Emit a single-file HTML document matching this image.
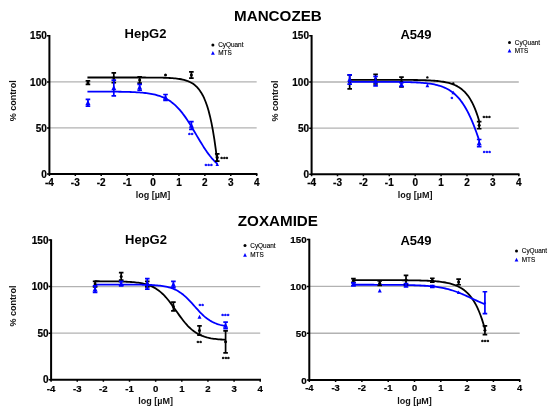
<!DOCTYPE html>
<html><head><meta charset="utf-8"><title>Mancozeb and Zoxamide dose response</title>
<style>
html,body{margin:0;padding:0;background:#fff;}
svg{display:block;font-family:"Liberation Sans",sans-serif;}
.tt{font-size:15.2px;font-weight:bold;fill:#000;}
.pt{font-size:13px;font-weight:bold;fill:#000;}
.tk{font-size:10px;font-weight:bold;fill:#000;stroke:#000;stroke-width:0.2px;}
.ax{font-size:9px;font-weight:bold;fill:#111;}
.lg{font-size:6.4px;fill:#000;stroke:#000;stroke-width:0.12px;}
.st{font-size:5.8px;font-weight:bold;letter-spacing:0.45px;stroke-width:0.35px;}
</style></head><body>
<svg width="550" height="411" viewBox="0 0 550 411">
<rect width="550" height="411" fill="#fff"/>
<text class="tt" x="277.9" y="20.7" text-anchor="middle">MANCOZEB</text>
<text class="tt" x="277.9" y="226.4" text-anchor="middle">ZOXAMIDE</text>
<line x1="49.4" y1="127.95" x2="256.68" y2="127.95" stroke="#b2b2b2" stroke-width="1.3"/>
<line x1="49.4" y1="81.9" x2="256.68" y2="81.9" stroke="#b2b2b2" stroke-width="1.3"/>
<line x1="311.6" y1="128.15" x2="518.8" y2="128.15" stroke="#b2b2b2" stroke-width="1.3"/>
<line x1="311.6" y1="82" x2="518.8" y2="82" stroke="#b2b2b2" stroke-width="1.3"/>
<line x1="51.1" y1="333.2" x2="260.22" y2="333.2" stroke="#b2b2b2" stroke-width="1.3"/>
<line x1="51.1" y1="286.6" x2="260.22" y2="286.6" stroke="#b2b2b2" stroke-width="1.3"/>
<line x1="309.3" y1="333.25" x2="519.7" y2="333.25" stroke="#b2b2b2" stroke-width="1.3"/>
<line x1="309.3" y1="286.4" x2="519.7" y2="286.4" stroke="#b2b2b2" stroke-width="1.3"/>
<path d="M87.43 77.49L88.87 77.49L90.31 77.49L91.75 77.49L93.2 77.49L94.64 77.49L96.08 77.49L97.52 77.49L98.97 77.49L100.41 77.49L101.85 77.49L103.29 77.49L104.74 77.49L106.18 77.49L107.62 77.49L109.06 77.49L110.5 77.49L111.95 77.49L113.39 77.49L114.83 77.49L116.27 77.49L117.72 77.49L119.16 77.49L120.6 77.49L122.04 77.49L123.49 77.49L124.93 77.49L126.37 77.49L127.81 77.49L129.26 77.49L130.7 77.49L132.14 77.49L133.58 77.5L135.03 77.5L136.47 77.5L137.91 77.5L139.35 77.51L140.8 77.51L142.24 77.51L143.68 77.52L145.12 77.52L146.57 77.53L148.01 77.54L149.45 77.54L150.89 77.55L152.33 77.57L153.78 77.58L155.22 77.6L156.66 77.61L158.1 77.63L159.55 77.66L160.99 77.69L162.43 77.72L163.87 77.76L165.32 77.81L166.76 77.86L168.2 77.93L169.64 78L171.09 78.09L172.53 78.19L173.97 78.3L175.41 78.44L176.86 78.6L178.3 78.79L179.74 79L181.18 79.26L182.63 79.55L184.07 79.9L185.51 80.3L186.95 80.77L188.4 81.32L189.84 81.96L191.28 82.71L192.72 83.58L194.16 84.6L195.61 85.79L197.05 87.18L198.49 88.8L199.93 90.69L201.38 92.89L202.82 95.47L204.26 98.47L205.7 101.98L207.15 106.07L208.59 110.85L210.03 116.42L211.47 122.93L212.92 130.52L214.36 139.38L215.8 149.72L217.24 161.79" fill="none" stroke="#000" stroke-width="1.8" stroke-linecap="butt" stroke-linejoin="round"/>
<path d="M87.43 91.57L88.87 91.57L90.31 91.57L91.75 91.57L93.2 91.58L94.64 91.58L96.08 91.58L97.52 91.59L98.97 91.59L100.41 91.59L101.85 91.6L103.29 91.6L104.74 91.61L106.18 91.62L107.62 91.63L109.06 91.63L110.5 91.65L111.95 91.66L113.39 91.67L114.83 91.68L116.27 91.7L117.72 91.72L119.16 91.74L120.6 91.76L122.04 91.79L123.49 91.81L124.93 91.85L126.37 91.88L127.81 91.92L129.26 91.97L130.7 92.02L132.14 92.07L133.58 92.14L135.03 92.21L136.47 92.29L137.91 92.37L139.35 92.47L140.8 92.58L142.24 92.71L143.68 92.85L145.12 93L146.57 93.18L148.01 93.37L149.45 93.59L150.89 93.83L152.33 94.1L153.78 94.4L155.22 94.73L156.66 95.1L158.1 95.52L159.55 95.97L160.99 96.48L162.43 97.04L163.87 97.67L165.32 98.35L166.76 99.11L168.2 99.94L169.64 100.85L171.09 101.85L172.53 102.94L173.97 104.12L175.41 105.41L176.86 106.8L178.3 108.29L179.74 109.9L181.18 111.61L182.63 113.43L184.07 115.36L185.51 117.38L186.95 119.5L188.4 121.71L189.84 123.99L191.28 126.34L192.72 128.74L194.16 131.17L195.61 133.63L197.05 136.09L198.49 138.53L199.93 140.96L201.38 143.33L202.82 145.65L204.26 147.9L205.7 150.07L207.15 152.15L208.59 154.14L210.03 156.02L211.47 157.79L212.92 159.46L214.36 161.01L215.8 162.46L217.24 163.8" fill="none" stroke="#0000ff" stroke-width="1.8" stroke-linecap="butt" stroke-linejoin="round"/>
<circle cx="87.94" cy="82.63" r="1.5" fill="#000"/>
<circle cx="113.8" cy="77.75" r="1.5" fill="#000"/>
<circle cx="139.66" cy="79.96" r="1.5" fill="#000"/>
<circle cx="165.52" cy="74.9" r="1.5" fill="#000"/>
<circle cx="191.38" cy="74.99" r="1.5" fill="#000"/>
<circle cx="217.24" cy="157.52" r="1.5" fill="#000"/>
<path d="M87.94 80.79V84.47M85.64 80.79h4.6M85.64 84.47h4.6M113.8 72.78V82.72M111.5 72.78h4.6M111.5 82.72h4.6M139.66 76.83V83.09M137.36 76.83h4.6M137.36 83.09h4.6M191.38 71.96V78.03M189.08 71.96h4.6M189.08 78.03h4.6M217.24 153.93V161.1M214.94 153.93h4.6M214.94 161.1h4.6" stroke="#000" stroke-width="1.7" fill="none"/>
<path d="M87.94 100.03L90.44 105.03H85.44Z" fill="#0000ff"/>
<path d="M113.8 85.21L116.3 90.21H111.3Z" fill="#0000ff"/>
<path d="M139.66 84.57L142.16 89.57H137.16Z" fill="#0000ff"/>
<path d="M165.52 94.69L168.02 99.69H163.02Z" fill="#0000ff"/>
<path d="M191.38 122.75L193.88 127.75H188.88Z" fill="#0000ff"/>
<path d="M217.24 162.4L218.99 165.9H215.49Z" fill="#0000ff"/>
<path d="M87.94 99.46V106.09M85.64 99.46h4.6M85.64 106.09h4.6M113.8 80.05V95.88M111.5 80.05h4.6M111.5 95.88h4.6M139.66 84.38V90.26M137.36 84.38h4.6M137.36 90.26h4.6M165.52 94.5V100.38M163.22 94.5h4.6M163.22 100.38h4.6M191.38 121.64V129.36M189.08 121.64h4.6M189.08 129.36h4.6" stroke="#0000ff" stroke-width="1.7" fill="none"/>
<text class="st" x="224.5" y="160.5" fill="#000" stroke="#000" text-anchor="middle">***</text>
<text class="st" x="208.8" y="168.1" fill="#0000ff" stroke="#0000ff" text-anchor="middle">***</text>
<text class="st" x="190.9" y="136.6" fill="#0000ff" stroke="#0000ff" text-anchor="middle">**</text>
<path d="M349.16 79.81L350.6 79.81L352.04 79.81L353.49 79.81L354.93 79.81L356.38 79.81L357.82 79.81L359.27 79.81L360.71 79.81L362.16 79.81L363.6 79.81L365.05 79.81L366.49 79.81L367.94 79.81L369.38 79.81L370.82 79.81L372.27 79.81L373.71 79.81L375.16 79.81L376.6 79.81L378.05 79.81L379.49 79.82L380.94 79.82L382.38 79.82L383.83 79.82L385.27 79.82L386.72 79.82L388.16 79.83L389.61 79.83L391.05 79.83L392.49 79.83L393.94 79.84L395.38 79.84L396.83 79.85L398.27 79.85L399.72 79.86L401.16 79.86L402.61 79.87L404.05 79.88L405.5 79.89L406.94 79.9L408.39 79.91L409.83 79.92L411.27 79.94L412.72 79.96L414.16 79.98L415.61 80L417.05 80.02L418.5 80.05L419.94 80.08L421.39 80.12L422.83 80.16L424.28 80.2L425.72 80.25L427.17 80.31L428.61 80.38L430.06 80.45L431.5 80.54L432.94 80.63L434.39 80.74L435.83 80.86L437.28 81L438.72 81.15L440.17 81.33L441.61 81.52L443.06 81.75L444.5 82L445.95 82.28L447.39 82.61L448.84 82.97L450.28 83.38L451.72 83.85L453.17 84.37L454.61 84.97L456.06 85.64L457.5 86.4L458.95 87.26L460.39 88.23L461.84 89.32L463.28 90.56L464.73 91.96L466.17 93.54L467.62 95.32L469.06 97.34L470.51 99.62L471.95 102.2L473.39 105.12L474.84 108.41L476.28 112.13L477.73 116.33L479.17 121.09" fill="none" stroke="#000" stroke-width="1.8" stroke-linecap="butt" stroke-linejoin="round"/>
<path d="M349.16 81.78L350.6 81.78L352.04 81.78L353.49 81.79L354.93 81.79L356.38 81.79L357.82 81.79L359.27 81.79L360.71 81.79L362.16 81.79L363.6 81.79L365.05 81.79L366.49 81.79L367.94 81.8L369.38 81.8L370.82 81.8L372.27 81.8L373.71 81.81L375.16 81.81L376.6 81.81L378.05 81.82L379.49 81.82L380.94 81.82L382.38 81.83L383.83 81.84L385.27 81.84L386.72 81.85L388.16 81.86L389.61 81.87L391.05 81.88L392.49 81.89L393.94 81.9L395.38 81.91L396.83 81.93L398.27 81.95L399.72 81.97L401.16 81.99L402.61 82.01L404.05 82.04L405.5 82.07L406.94 82.11L408.39 82.15L409.83 82.19L411.27 82.24L412.72 82.29L414.16 82.35L415.61 82.42L417.05 82.5L418.5 82.58L419.94 82.67L421.39 82.78L422.83 82.9L424.28 83.03L425.72 83.17L427.17 83.34L428.61 83.52L430.06 83.72L431.5 83.95L432.94 84.2L434.39 84.49L435.83 84.8L437.28 85.15L438.72 85.54L440.17 85.98L441.61 86.46L443.06 87L444.5 87.6L445.95 88.26L447.39 88.99L448.84 89.81L450.28 90.71L451.72 91.7L453.17 92.8L454.61 94.02L456.06 95.35L457.5 96.82L458.95 98.43L460.39 100.19L461.84 102.12L463.28 104.22L464.73 106.5L466.17 108.97L467.62 111.64L469.06 114.51L470.51 117.59L471.95 120.88L473.39 124.39L474.84 128.1L476.28 132L477.73 136.1L479.17 140.38" fill="none" stroke="#0000ff" stroke-width="1.8" stroke-linecap="butt" stroke-linejoin="round"/>
<circle cx="349.67" cy="81.9" r="1.5" fill="#000"/>
<circle cx="375.57" cy="79.13" r="1.5" fill="#000"/>
<circle cx="401.47" cy="81.99" r="1.5" fill="#000"/>
<circle cx="427.37" cy="77.38" r="1.2" fill="#000"/>
<circle cx="453.27" cy="83.47" r="1.2" fill="#000"/>
<circle cx="479.17" cy="125.14" r="1.5" fill="#000"/>
<path d="M349.67 74.98V88.81M347.37 74.98h4.6M347.37 88.81h4.6M375.57 74.25V84.02M373.27 74.25h4.6M373.27 84.02h4.6M401.47 77.11V86.88M399.17 77.11h4.6M399.17 86.88h4.6M479.17 121.55V128.74M476.87 121.55h4.6M476.87 128.74h4.6" stroke="#000" stroke-width="1.7" fill="none"/>
<path d="M349.67 76.75L352.17 81.75H347.17Z" fill="#0000ff"/>
<path d="M375.57 78.32L378.07 83.32H373.07Z" fill="#0000ff"/>
<path d="M401.47 82.14L403.6 86.39H399.35Z" fill="#0000ff"/>
<path d="M427.37 83.53L429.25 87.28H425.5Z" fill="#0000ff"/>
<path d="M453.27 90.76L455.02 94.26H451.52Z" fill="#0000ff"/>
<path d="M479.17 140.28L481.67 145.28H476.67Z" fill="#0000ff"/>
<path d="M349.67 74.8V84.2M347.37 74.8h4.6M347.37 84.2h4.6M375.57 76.28V85.86M373.27 76.28h4.6M373.27 85.86h4.6M401.47 82.64V86.33M399.17 82.64h4.6M399.17 86.33h4.6M479.17 139.52V146.53M476.87 139.52h4.6M476.87 146.53h4.6" stroke="#0000ff" stroke-width="1.7" fill="none"/>
<text class="st" x="486.9" y="120.3" fill="#000" stroke="#000" text-anchor="middle">***</text>
<text class="st" x="487.1" y="155.3" fill="#0000ff" stroke="#0000ff" text-anchor="middle">***</text>
<text class="st" x="452.1" y="101.4" fill="#0000ff" stroke="#0000ff" text-anchor="middle">*</text>
<path d="M94.56 281.26L96.02 281.27L97.48 281.27L98.93 281.27L100.39 281.28L101.84 281.28L103.3 281.29L104.76 281.3L106.21 281.31L107.67 281.32L109.12 281.33L110.58 281.34L112.03 281.36L113.49 281.38L114.95 281.4L116.4 281.42L117.86 281.45L119.31 281.48L120.77 281.52L122.23 281.56L123.68 281.61L125.14 281.67L126.59 281.73L128.05 281.81L129.5 281.89L130.96 281.99L132.42 282.1L133.87 282.22L135.33 282.37L136.78 282.54L138.24 282.73L139.69 282.95L141.15 283.2L142.61 283.48L144.06 283.8L145.52 284.17L146.97 284.59L148.43 285.06L149.89 285.59L151.34 286.2L152.8 286.87L154.25 287.63L155.71 288.48L157.16 289.42L158.62 290.46L160.08 291.6L161.53 292.86L162.99 294.23L164.44 295.7L165.9 297.29L167.35 298.99L168.81 300.78L170.27 302.66L171.72 304.61L173.18 306.62L174.63 308.67L176.09 310.74L177.55 312.81L179 314.86L180.46 316.87L181.91 318.82L183.37 320.7L184.82 322.49L186.28 324.19L187.74 325.78L189.19 327.26L190.65 328.63L192.1 329.89L193.56 331.03L195.02 332.08L196.47 333.02L197.93 333.87L199.38 334.63L200.84 335.3L202.29 335.91L203.75 336.44L205.21 336.91L206.66 337.33L208.12 337.7L209.57 338.02L211.03 338.31L212.48 338.56L213.94 338.78L215.4 338.97L216.85 339.14L218.31 339.28L219.76 339.41L221.22 339.52L222.68 339.62L224.13 339.7L225.59 339.78" fill="none" stroke="#000" stroke-width="1.8" stroke-linecap="butt" stroke-linejoin="round"/>
<path d="M94.56 284.56L96.02 284.56L97.48 284.56L98.93 284.56L100.39 284.56L101.84 284.56L103.3 284.56L104.76 284.56L106.21 284.57L107.67 284.57L109.12 284.57L110.58 284.57L112.03 284.57L113.49 284.57L114.95 284.57L116.4 284.57L117.86 284.58L119.31 284.58L120.77 284.58L122.23 284.58L123.68 284.59L125.14 284.59L126.59 284.6L128.05 284.6L129.5 284.61L130.96 284.62L132.42 284.63L133.87 284.64L135.33 284.65L136.78 284.66L138.24 284.68L139.69 284.7L141.15 284.72L142.61 284.75L144.06 284.78L145.52 284.81L146.97 284.85L148.43 284.9L149.89 284.96L151.34 285.02L152.8 285.1L154.25 285.19L155.71 285.29L157.16 285.4L158.62 285.54L160.08 285.7L161.53 285.88L162.99 286.09L164.44 286.33L165.9 286.61L167.35 286.93L168.81 287.3L170.27 287.72L171.72 288.19L173.18 288.74L174.63 289.35L176.09 290.04L177.55 290.81L179 291.67L180.46 292.63L181.91 293.67L183.37 294.82L184.82 296.06L186.28 297.39L187.74 298.81L189.19 300.3L190.65 301.86L192.1 303.46L193.56 305.09L195.02 306.73L196.47 308.37L197.93 309.97L199.38 311.54L200.84 313.04L202.29 314.47L203.75 315.82L205.21 317.08L206.66 318.24L208.12 319.31L209.57 320.28L211.03 321.16L212.48 321.95L213.94 322.66L215.4 323.28L216.85 323.84L218.31 324.33L219.76 324.75L221.22 325.13L222.68 325.46L224.13 325.74L225.59 325.99" fill="none" stroke="#0000ff" stroke-width="1.8" stroke-linecap="butt" stroke-linejoin="round"/>
<circle cx="95.09" cy="284.12" r="1.5" fill="#000"/>
<circle cx="121.19" cy="276.41" r="1.5" fill="#000"/>
<circle cx="147.29" cy="284.12" r="1.5" fill="#000"/>
<circle cx="173.39" cy="306.57" r="1.5" fill="#000"/>
<circle cx="199.49" cy="330.52" r="1.5" fill="#000"/>
<circle cx="225.59" cy="341.84" r="1.5" fill="#000"/>
<path d="M95.09 281.33V286.9M92.79 281.33h4.6M92.79 286.9h4.6M121.19 272.7V280.13M118.89 272.7h4.6M118.89 280.13h4.6M147.29 281.33V286.9M144.99 281.33h4.6M144.99 286.9h4.6M173.39 302.21V310.94M171.09 302.21h4.6M171.09 310.94h4.6M199.49 325.88V335.16M197.19 325.88h4.6M197.19 335.16h4.6M225.59 330.89V352.79M223.29 330.89h4.6M223.29 352.79h4.6" stroke="#000" stroke-width="1.7" fill="none"/>
<path d="M95.09 286.38L97.59 291.38H92.59Z" fill="#0000ff"/>
<path d="M121.19 280.9L123.69 285.9H118.69Z" fill="#0000ff"/>
<path d="M147.29 281.09L149.79 286.09H144.79Z" fill="#0000ff"/>
<path d="M173.39 281.74L175.89 286.74H170.89Z" fill="#0000ff"/>
<path d="M199.49 314.86L201.49 318.86H197.49Z" fill="#0000ff"/>
<path d="M225.59 322.66L228.09 327.66H223.09Z" fill="#0000ff"/>
<path d="M95.09 285.88V292.38M92.79 285.88h4.6M92.79 292.38h4.6M121.19 281.33V285.97M118.89 281.33h4.6M118.89 285.97h4.6M147.29 278.64V289.03M144.99 278.64h4.6M144.99 289.03h4.6M173.39 281.42V287.55M171.09 281.42h4.6M171.09 287.55h4.6M225.59 322.16V328.66M223.29 322.16h4.6M223.29 328.66h4.6" stroke="#0000ff" stroke-width="1.7" fill="none"/>
<text class="st" x="199.4" y="344.6" fill="#000" stroke="#000" text-anchor="middle">**</text>
<text class="st" x="226" y="360.6" fill="#000" stroke="#000" text-anchor="middle">***</text>
<text class="st" x="201.4" y="308.1" fill="#0000ff" stroke="#0000ff" text-anchor="middle">**</text>
<text class="st" x="225.6" y="317.9" fill="#0000ff" stroke="#0000ff" text-anchor="middle">***</text>
<path d="M352.89 280.14L354.36 280.14L355.83 280.14L357.3 280.14L358.76 280.14L360.23 280.14L361.7 280.14L363.16 280.14L364.63 280.14L366.1 280.14L367.56 280.14L369.03 280.14L370.5 280.14L371.97 280.14L373.43 280.14L374.9 280.15L376.37 280.15L377.83 280.15L379.3 280.15L380.77 280.15L382.23 280.15L383.7 280.16L385.17 280.16L386.63 280.16L388.1 280.16L389.57 280.17L391.04 280.17L392.5 280.18L393.97 280.18L395.44 280.19L396.9 280.19L398.37 280.2L399.84 280.21L401.3 280.22L402.77 280.23L404.24 280.24L405.71 280.25L407.17 280.26L408.64 280.28L410.11 280.29L411.57 280.31L413.04 280.34L414.51 280.36L415.97 280.39L417.44 280.42L418.91 280.45L420.37 280.49L421.84 280.53L423.31 280.57L424.78 280.63L426.24 280.69L427.71 280.75L429.18 280.82L430.64 280.91L432.11 281L433.58 281.1L435.04 281.21L436.51 281.34L437.98 281.49L439.45 281.65L440.91 281.83L442.38 282.03L443.85 282.25L445.31 282.5L446.78 282.79L448.25 283.1L449.71 283.45L451.18 283.85L452.65 284.29L454.11 284.78L455.58 285.33L457.05 285.95L458.52 286.64L459.98 287.42L461.45 288.28L462.92 289.25L464.38 290.34L465.85 291.55L467.32 292.9L468.78 294.42L470.25 296.12L471.72 298.02L473.19 300.15L474.65 302.52L476.12 305.18L477.59 308.16L479.05 311.49L480.52 315.22L481.99 319.39L483.45 324.05L484.92 329.27" fill="none" stroke="#000" stroke-width="1.8" stroke-linecap="butt" stroke-linejoin="round"/>
<path d="M352.89 284.75L354.36 284.75L355.83 284.75L357.3 284.76L358.76 284.76L360.23 284.76L361.7 284.76L363.16 284.76L364.63 284.76L366.1 284.76L367.56 284.77L369.03 284.77L370.5 284.77L371.97 284.77L373.43 284.77L374.9 284.78L376.37 284.78L377.83 284.78L379.3 284.79L380.77 284.79L382.23 284.8L383.7 284.8L385.17 284.81L386.63 284.82L388.1 284.82L389.57 284.83L391.04 284.84L392.5 284.85L393.97 284.86L395.44 284.88L396.9 284.89L398.37 284.91L399.84 284.92L401.3 284.94L402.77 284.96L404.24 284.99L405.71 285.01L407.17 285.04L408.64 285.07L410.11 285.11L411.57 285.14L413.04 285.19L414.51 285.23L415.97 285.29L417.44 285.34L418.91 285.41L420.37 285.48L421.84 285.56L423.31 285.64L424.78 285.73L426.24 285.84L427.71 285.95L429.18 286.08L430.64 286.21L432.11 286.36L433.58 286.53L435.04 286.71L436.51 286.9L437.98 287.12L439.45 287.35L440.91 287.61L442.38 287.88L443.85 288.18L445.31 288.5L446.78 288.85L448.25 289.22L449.71 289.62L451.18 290.04L452.65 290.5L454.11 290.98L455.58 291.48L457.05 292.02L458.52 292.57L459.98 293.16L461.45 293.76L462.92 294.39L464.38 295.03L465.85 295.69L467.32 296.36L468.78 297.04L470.25 297.73L471.72 298.41L473.19 299.1L474.65 299.77L476.12 300.44L477.59 301.1L479.05 301.74L480.52 302.36L481.99 302.96L483.45 303.54L484.92 304.09" fill="none" stroke="#0000ff" stroke-width="1.8" stroke-linecap="butt" stroke-linejoin="round"/>
<circle cx="353.42" cy="280.5" r="1.5" fill="#000"/>
<circle cx="379.72" cy="283.19" r="1.5" fill="#000"/>
<circle cx="406.02" cy="280.03" r="1.5" fill="#000"/>
<circle cx="432.32" cy="280.22" r="1.5" fill="#000"/>
<circle cx="458.62" cy="281.98" r="1.5" fill="#000"/>
<circle cx="484.92" cy="330.33" r="1.5" fill="#000"/>
<path d="M353.42 278.55V282.45M351.12 278.55h4.6M351.12 282.45h4.6M379.72 280.87V285.51M377.42 280.87h4.6M377.42 285.51h4.6M406.02 275.39V284.67M403.72 275.39h4.6M403.72 284.67h4.6M432.32 278.27V282.17M430.02 278.27h4.6M430.02 282.17h4.6M458.62 279.2V284.77M456.32 279.2h4.6M456.32 284.77h4.6M484.92 325.97V334.69M482.62 325.97h4.6M482.62 334.69h4.6" stroke="#000" stroke-width="1.7" fill="none"/>
<path d="M353.42 281.55L355.92 286.55H350.92Z" fill="#0000ff"/>
<path d="M379.72 288.41L381.72 292.41H377.72Z" fill="#0000ff"/>
<path d="M406.02 283.12L408.02 287.12H404.02Z" fill="#0000ff"/>
<path d="M432.32 284.6L434.07 288.1H430.57Z" fill="#0000ff"/>
<path d="M458.62 290.54L460.37 294.04H456.87Z" fill="#0000ff"/>
<path d="M484.92 301.3L486.17 303.8H483.67Z" fill="#0000ff"/>
<path d="M353.42 282.91V285.69M351.12 282.91h4.6M351.12 285.69h4.6M406.02 283.65V286.99M403.72 283.65h4.6M403.72 286.99h4.6M432.32 285.6V287.46M430.02 285.6h4.6M430.02 287.46h4.6M484.92 291.73V313.63M482.62 291.73h4.6M482.62 313.63h4.6" stroke="#0000ff" stroke-width="1.7" fill="none"/>
<text class="st" x="485.3" y="343.8" fill="#000" stroke="#000" text-anchor="middle">***</text>
<path d="M49.4 35.1V174H257.43" fill="none" stroke="#000" stroke-width="2.0" stroke-linejoin="miter"/>
<path d="M49.4 174v2M75.31 174v2M101.22 174v2M127.13 174v2M153.04 174v2M178.95 174v2M204.86 174v2M230.77 174v2M256.68 174v2M49.4 174h-2.4M49.4 127.95h-2.4M49.4 81.9h-2.4M49.4 35.85h-2.4" stroke="#000" stroke-width="1.5" fill="none"/>
<text class="tk" style="font-size:10.0px" x="49.4" y="185.8" text-anchor="middle">-4</text>
<text class="tk" style="font-size:10.0px" x="75.31" y="185.8" text-anchor="middle">-3</text>
<text class="tk" style="font-size:10.0px" x="101.22" y="185.8" text-anchor="middle">-2</text>
<text class="tk" style="font-size:10.0px" x="127.13" y="185.8" text-anchor="middle">-1</text>
<text class="tk" style="font-size:10.0px" x="153.04" y="185.8" text-anchor="middle">0</text>
<text class="tk" style="font-size:10.0px" x="178.95" y="185.8" text-anchor="middle">1</text>
<text class="tk" style="font-size:10.0px" x="204.86" y="185.8" text-anchor="middle">2</text>
<text class="tk" style="font-size:10.0px" x="230.77" y="185.8" text-anchor="middle">3</text>
<text class="tk" style="font-size:10.0px" x="256.68" y="185.8" text-anchor="middle">4</text>
<text class="tk" style="font-size:10.0px" x="46.8" y="177.6" text-anchor="end">0</text>
<text class="tk" style="font-size:10.0px" x="46.8" y="131.55" text-anchor="end">50</text>
<text class="tk" style="font-size:10.0px" x="46.8" y="85.5" text-anchor="end">100</text>
<text class="tk" style="font-size:10.0px" x="46.8" y="39.45" text-anchor="end">150</text>
<text class="ax" x="153.04" y="198.1" text-anchor="middle">log [µM]</text>
<text class="ax" transform="translate(15.8 100.7) rotate(-90)" text-anchor="middle">% control</text>
<text class="pt" x="145.5" y="37.8" text-anchor="middle">HepG2</text>
<circle cx="212.9" cy="45.1" r="1.5" fill="#000"/>
<text class="lg" x="218.2" y="47.4">CyQuant</text>
<path d="M212.9 51.01L214.8 54.81H211Z" fill="#0000ff"/>
<text class="lg" x="218.2" y="55.4">MTS</text>
<path d="M311.6 35.1V174.3H519.55" fill="none" stroke="#000" stroke-width="2.0" stroke-linejoin="miter"/>
<path d="M311.6 174.3v2M337.5 174.3v2M363.4 174.3v2M389.3 174.3v2M415.2 174.3v2M441.1 174.3v2M467 174.3v2M492.9 174.3v2M518.8 174.3v2M311.6 174.3h-2.4M311.6 128.15h-2.4M311.6 82h-2.4M311.6 35.85h-2.4" stroke="#000" stroke-width="1.5" fill="none"/>
<text class="tk" style="font-size:10.0px" x="311.6" y="186.1" text-anchor="middle">-4</text>
<text class="tk" style="font-size:10.0px" x="337.5" y="186.1" text-anchor="middle">-3</text>
<text class="tk" style="font-size:10.0px" x="363.4" y="186.1" text-anchor="middle">-2</text>
<text class="tk" style="font-size:10.0px" x="389.3" y="186.1" text-anchor="middle">-1</text>
<text class="tk" style="font-size:10.0px" x="415.2" y="186.1" text-anchor="middle">0</text>
<text class="tk" style="font-size:10.0px" x="441.1" y="186.1" text-anchor="middle">1</text>
<text class="tk" style="font-size:10.0px" x="467" y="186.1" text-anchor="middle">2</text>
<text class="tk" style="font-size:10.0px" x="492.9" y="186.1" text-anchor="middle">3</text>
<text class="tk" style="font-size:10.0px" x="518.8" y="186.1" text-anchor="middle">4</text>
<text class="tk" style="font-size:10.0px" x="309" y="177.9" text-anchor="end">0</text>
<text class="tk" style="font-size:10.0px" x="309" y="131.75" text-anchor="end">50</text>
<text class="tk" style="font-size:10.0px" x="309" y="85.6" text-anchor="end">100</text>
<text class="tk" style="font-size:10.0px" x="309" y="39.45" text-anchor="end">150</text>
<text class="ax" x="415.2" y="198.4" text-anchor="middle">log [µM]</text>
<text class="ax" transform="translate(277.7 100.9) rotate(-90)" text-anchor="middle">% control</text>
<text class="pt" x="416" y="38.6" text-anchor="middle">A549</text>
<circle cx="509.5" cy="42.4" r="1.5" fill="#000"/>
<text class="lg" x="514.8" y="44.7">CyQuant</text>
<path d="M509.5 48.71L511.4 52.51H507.6Z" fill="#0000ff"/>
<text class="lg" x="514.8" y="53.1">MTS</text>
<path d="M51.1 239.25V379.8H260.97" fill="none" stroke="#000" stroke-width="2.0" stroke-linejoin="miter"/>
<path d="M51.1 379.8v2M77.24 379.8v2M103.38 379.8v2M129.52 379.8v2M155.66 379.8v2M181.8 379.8v2M207.94 379.8v2M234.08 379.8v2M260.22 379.8v2M51.1 379.8h-2.4M51.1 333.2h-2.4M51.1 286.6h-2.4M51.1 240h-2.4" stroke="#000" stroke-width="1.5" fill="none"/>
<text class="tk" style="font-size:9.6px" x="51.1" y="391.6" text-anchor="middle">-4</text>
<text class="tk" style="font-size:9.6px" x="77.24" y="391.6" text-anchor="middle">-3</text>
<text class="tk" style="font-size:9.6px" x="103.38" y="391.6" text-anchor="middle">-2</text>
<text class="tk" style="font-size:9.6px" x="129.52" y="391.6" text-anchor="middle">-1</text>
<text class="tk" style="font-size:9.6px" x="155.66" y="391.6" text-anchor="middle">0</text>
<text class="tk" style="font-size:9.6px" x="181.8" y="391.6" text-anchor="middle">1</text>
<text class="tk" style="font-size:9.6px" x="207.94" y="391.6" text-anchor="middle">2</text>
<text class="tk" style="font-size:9.6px" x="234.08" y="391.6" text-anchor="middle">3</text>
<text class="tk" style="font-size:9.6px" x="260.22" y="391.6" text-anchor="middle">4</text>
<text class="tk" style="font-size:10.0px" x="48.5" y="383.4" text-anchor="end">0</text>
<text class="tk" style="font-size:10.0px" x="48.5" y="336.8" text-anchor="end">50</text>
<text class="tk" style="font-size:10.0px" x="48.5" y="290.2" text-anchor="end">100</text>
<text class="tk" style="font-size:10.0px" x="48.5" y="243.6" text-anchor="end">150</text>
<text class="ax" x="155.66" y="403.5" text-anchor="middle">log [µM]</text>
<text class="ax" transform="translate(15.8 306) rotate(-90)" text-anchor="middle">% control</text>
<text class="pt" x="146" y="244" text-anchor="middle">HepG2</text>
<circle cx="245" cy="245.6" r="1.5" fill="#000"/>
<text class="lg" x="250.3" y="247.9">CyQuant</text>
<path d="M245 253.01L246.9 256.81H243.1Z" fill="#0000ff"/>
<text class="lg" x="250.3" y="257.4">MTS</text>
<path d="M309.3 238.8V380.1H520.45" fill="none" stroke="#000" stroke-width="2.0" stroke-linejoin="miter"/>
<path d="M309.3 380.1v2M335.6 380.1v2M361.9 380.1v2M388.2 380.1v2M414.5 380.1v2M440.8 380.1v2M467.1 380.1v2M493.4 380.1v2M519.7 380.1v2M309.3 380.1h-2.4M309.3 333.25h-2.4M309.3 286.4h-2.4M309.3 239.55h-2.4" stroke="#000" stroke-width="1.5" fill="none"/>
<text class="tk" style="font-size:9.4px" x="309.3" y="391.3" text-anchor="middle">-4</text>
<text class="tk" style="font-size:9.4px" x="335.6" y="391.3" text-anchor="middle">-3</text>
<text class="tk" style="font-size:9.4px" x="361.9" y="391.3" text-anchor="middle">-2</text>
<text class="tk" style="font-size:9.4px" x="388.2" y="391.3" text-anchor="middle">-1</text>
<text class="tk" style="font-size:9.4px" x="414.5" y="391.3" text-anchor="middle">0</text>
<text class="tk" style="font-size:9.4px" x="440.8" y="391.3" text-anchor="middle">1</text>
<text class="tk" style="font-size:9.4px" x="467.1" y="391.3" text-anchor="middle">2</text>
<text class="tk" style="font-size:9.4px" x="493.4" y="391.3" text-anchor="middle">3</text>
<text class="tk" style="font-size:9.4px" x="519.7" y="391.3" text-anchor="middle">4</text>
<text class="tk" style="font-size:9.8px" x="306.7" y="383.63" text-anchor="end">0</text>
<text class="tk" style="font-size:9.8px" x="306.7" y="336.78" text-anchor="end">50</text>
<text class="tk" style="font-size:9.8px" x="306.7" y="289.93" text-anchor="end">100</text>
<text class="tk" style="font-size:9.8px" x="306.7" y="243.08" text-anchor="end">150</text>
<text class="ax" x="414.5" y="403.6" text-anchor="middle">log [µM]</text>
<text class="pt" x="416" y="245" text-anchor="middle">A549</text>
<circle cx="516.5" cy="251" r="1.5" fill="#000"/>
<text class="lg" x="521.8" y="253.3">CyQuant</text>
<path d="M516.5 257.81L518.4 261.61H514.6Z" fill="#0000ff"/>
<text class="lg" x="521.8" y="262.2">MTS</text>
</svg>
</body></html>
